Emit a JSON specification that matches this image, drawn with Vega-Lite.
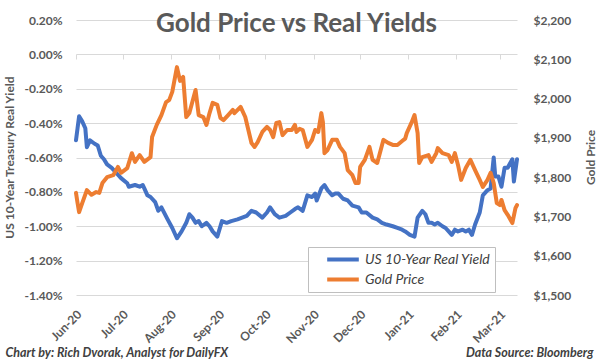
{
  "$schema": "https://vega.github.io/schema/vega-lite/v6.json",
  "width": 441,
  "height": 275,
  "autosize": {"type": "none"},
  "padding": {"left": 76, "top": 20, "right": 83, "bottom": 65},
  "background": "white",
  "config": {"font": "Lato", "view": {"stroke": null}},
  "title": {"text": "Gold Price vs Real Yields", "fontSize": 26, "fontWeight": "bold", "color": "#595959", "anchor": "middle", "frame": "group", "baseline": "alphabetic", "offset": -44},
  "datasets": {
    "yield": [
      {"date": "2020-06-01", "yield": -0.50},
      {"date": "2020-06-02", "yield": -0.43},
      {"date": "2020-06-03", "yield": -0.36},
      {"date": "2020-06-05", "yield": -0.39},
      {"date": "2020-06-07", "yield": -0.43},
      {"date": "2020-06-08", "yield": -0.54},
      {"date": "2020-06-10", "yield": -0.50},
      {"date": "2020-06-13", "yield": -0.52},
      {"date": "2020-06-15", "yield": -0.53},
      {"date": "2020-06-17", "yield": -0.59},
      {"date": "2020-06-19", "yield": -0.61},
      {"date": "2020-06-21", "yield": -0.64},
      {"date": "2020-06-24", "yield": -0.66},
      {"date": "2020-06-27", "yield": -0.69},
      {"date": "2020-06-30", "yield": -0.72},
      {"date": "2020-07-04", "yield": -0.75},
      {"date": "2020-07-05", "yield": -0.77},
      {"date": "2020-07-09", "yield": -0.76},
      {"date": "2020-07-12", "yield": -0.77},
      {"date": "2020-07-14", "yield": -0.76},
      {"date": "2020-07-15", "yield": -0.78},
      {"date": "2020-07-17", "yield": -0.82},
      {"date": "2020-07-19", "yield": -0.83},
      {"date": "2020-07-22", "yield": -0.86},
      {"date": "2020-07-24", "yield": -0.91},
      {"date": "2020-07-26", "yield": -0.89},
      {"date": "2020-07-30", "yield": -0.96},
      {"date": "2020-08-02", "yield": -1.01},
      {"date": "2020-08-05", "yield": -1.07},
      {"date": "2020-08-08", "yield": -1.03},
      {"date": "2020-08-11", "yield": -0.98},
      {"date": "2020-08-13", "yield": -0.93},
      {"date": "2020-08-15", "yield": -0.95},
      {"date": "2020-08-17", "yield": -0.98},
      {"date": "2020-08-19", "yield": -0.97},
      {"date": "2020-08-21", "yield": -1.00},
      {"date": "2020-08-24", "yield": -0.98},
      {"date": "2020-08-26", "yield": -1.00},
      {"date": "2020-08-28", "yield": -1.03},
      {"date": "2020-08-31", "yield": -1.06},
      {"date": "2020-09-03", "yield": -0.97},
      {"date": "2020-09-06", "yield": -0.98},
      {"date": "2020-09-09", "yield": -0.97},
      {"date": "2020-09-13", "yield": -0.96},
      {"date": "2020-09-16", "yield": -0.95},
      {"date": "2020-09-19", "yield": -0.94},
      {"date": "2020-09-22", "yield": -0.91},
      {"date": "2020-09-25", "yield": -0.92},
      {"date": "2020-09-29", "yield": -0.95},
      {"date": "2020-10-02", "yield": -0.92},
      {"date": "2020-10-04", "yield": -0.89},
      {"date": "2020-10-07", "yield": -0.93},
      {"date": "2020-10-10", "yield": -0.95},
      {"date": "2020-10-14", "yield": -0.94},
      {"date": "2020-10-17", "yield": -0.92},
      {"date": "2020-10-20", "yield": -0.90},
      {"date": "2020-10-22", "yield": -0.89},
      {"date": "2020-10-25", "yield": -0.91},
      {"date": "2020-10-28", "yield": -0.82},
      {"date": "2020-10-31", "yield": -0.83},
      {"date": "2020-11-02", "yield": -0.81},
      {"date": "2020-11-03", "yield": -0.85},
      {"date": "2020-11-06", "yield": -0.78},
      {"date": "2020-11-08", "yield": -0.76},
      {"date": "2020-11-10", "yield": -0.79},
      {"date": "2020-11-13", "yield": -0.82},
      {"date": "2020-11-15", "yield": -0.81},
      {"date": "2020-11-17", "yield": -0.81},
      {"date": "2020-11-20", "yield": -0.84},
      {"date": "2020-11-23", "yield": -0.85},
      {"date": "2020-11-26", "yield": -0.88},
      {"date": "2020-11-30", "yield": -0.89},
      {"date": "2020-12-02", "yield": -0.92},
      {"date": "2020-12-05", "yield": -0.92},
      {"date": "2020-12-09", "yield": -0.95},
      {"date": "2020-12-12", "yield": -0.96},
      {"date": "2020-12-15", "yield": -0.98},
      {"date": "2020-12-18", "yield": -0.99},
      {"date": "2020-12-22", "yield": -1.00},
      {"date": "2020-12-25", "yield": -1.01},
      {"date": "2020-12-28", "yield": -1.02},
      {"date": "2020-12-30", "yield": -1.03},
      {"date": "2021-01-02", "yield": -1.05},
      {"date": "2021-01-05", "yield": -1.06},
      {"date": "2021-01-07", "yield": -0.95},
      {"date": "2021-01-10", "yield": -0.91},
      {"date": "2021-01-12", "yield": -0.93},
      {"date": "2021-01-14", "yield": -0.98},
      {"date": "2021-01-16", "yield": -0.98},
      {"date": "2021-01-18", "yield": -0.99},
      {"date": "2021-01-20", "yield": -0.98},
      {"date": "2021-01-23", "yield": -1.00},
      {"date": "2021-01-25", "yield": -1.01},
      {"date": "2021-01-27", "yield": -1.03},
      {"date": "2021-01-29", "yield": -1.05},
      {"date": "2021-01-31", "yield": -1.02},
      {"date": "2021-02-02", "yield": -1.03},
      {"date": "2021-02-05", "yield": -1.02},
      {"date": "2021-02-07", "yield": -1.03},
      {"date": "2021-02-09", "yield": -1.02},
      {"date": "2021-02-11", "yield": -1.05},
      {"date": "2021-02-13", "yield": -0.99},
      {"date": "2021-02-16", "yield": -0.92},
      {"date": "2021-02-18", "yield": -0.82},
      {"date": "2021-02-21", "yield": -0.79},
      {"date": "2021-02-23", "yield": -0.78},
      {"date": "2021-02-25", "yield": -0.60},
      {"date": "2021-02-26", "yield": -0.71},
      {"date": "2021-02-28", "yield": -0.71},
      {"date": "2021-03-02", "yield": -0.77},
      {"date": "2021-03-04", "yield": -0.66},
      {"date": "2021-03-06", "yield": -0.66},
      {"date": "2021-03-09", "yield": -0.61},
      {"date": "2021-03-10", "yield": -0.74},
      {"date": "2021-03-12", "yield": -0.61}
    ],
    "gold": [
      {"date": "2020-06-01", "price": 1760},
      {"date": "2020-06-02", "price": 1734},
      {"date": "2020-06-03", "price": 1711},
      {"date": "2020-06-05", "price": 1734},
      {"date": "2020-06-08", "price": 1767},
      {"date": "2020-06-11", "price": 1755},
      {"date": "2020-06-14", "price": 1762},
      {"date": "2020-06-16", "price": 1760},
      {"date": "2020-06-18", "price": 1785},
      {"date": "2020-06-21", "price": 1800},
      {"date": "2020-06-25", "price": 1805},
      {"date": "2020-06-28", "price": 1826},
      {"date": "2020-06-30", "price": 1811},
      {"date": "2020-07-04", "price": 1823},
      {"date": "2020-07-07", "price": 1861},
      {"date": "2020-07-09", "price": 1839},
      {"date": "2020-07-12", "price": 1856},
      {"date": "2020-07-15", "price": 1839},
      {"date": "2020-07-19", "price": 1851},
      {"date": "2020-07-20", "price": 1902},
      {"date": "2020-07-23", "price": 1933},
      {"date": "2020-07-26", "price": 1958},
      {"date": "2020-07-29", "price": 1991},
      {"date": "2020-07-31", "price": 1996},
      {"date": "2020-08-02", "price": 2017},
      {"date": "2020-08-05", "price": 2080},
      {"date": "2020-08-07", "price": 2045},
      {"date": "2020-08-09", "price": 2055},
      {"date": "2020-08-11", "price": 1953},
      {"date": "2020-08-13", "price": 1963},
      {"date": "2020-08-17", "price": 2022},
      {"date": "2020-08-19", "price": 1958},
      {"date": "2020-08-22", "price": 1953},
      {"date": "2020-08-24", "price": 1933},
      {"date": "2020-08-26", "price": 1963},
      {"date": "2020-08-28", "price": 1989},
      {"date": "2020-08-31", "price": 1984},
      {"date": "2020-09-02", "price": 1951},
      {"date": "2020-09-04", "price": 1945},
      {"date": "2020-09-07", "price": 1958},
      {"date": "2020-09-10", "price": 1971},
      {"date": "2020-09-11", "price": 1963},
      {"date": "2020-09-15", "price": 1979},
      {"date": "2020-09-18", "price": 1953},
      {"date": "2020-09-20", "price": 1920},
      {"date": "2020-09-22", "price": 1887},
      {"date": "2020-09-24", "price": 1877},
      {"date": "2020-09-26", "price": 1889},
      {"date": "2020-09-29", "price": 1915},
      {"date": "2020-10-02", "price": 1928},
      {"date": "2020-10-04", "price": 1920},
      {"date": "2020-10-06", "price": 1902},
      {"date": "2020-10-08", "price": 1938},
      {"date": "2020-10-10", "price": 1940},
      {"date": "2020-10-12", "price": 1907},
      {"date": "2020-10-15", "price": 1920},
      {"date": "2020-10-18", "price": 1920},
      {"date": "2020-10-20", "price": 1933},
      {"date": "2020-10-21", "price": 1915},
      {"date": "2020-10-23", "price": 1923},
      {"date": "2020-10-25", "price": 1920},
      {"date": "2020-10-28", "price": 1877},
      {"date": "2020-10-31", "price": 1895},
      {"date": "2020-11-02", "price": 1920},
      {"date": "2020-11-04", "price": 1915},
      {"date": "2020-11-06", "price": 1963},
      {"date": "2020-11-07", "price": 1940},
      {"date": "2020-11-08", "price": 1861},
      {"date": "2020-11-10", "price": 1869},
      {"date": "2020-11-13", "price": 1895},
      {"date": "2020-11-16", "price": 1895},
      {"date": "2020-11-18", "price": 1877},
      {"date": "2020-11-21", "price": 1861},
      {"date": "2020-11-23", "price": 1818},
      {"date": "2020-11-26", "price": 1805},
      {"date": "2020-11-28", "price": 1785},
      {"date": "2020-11-30", "price": 1785},
      {"date": "2020-12-01", "price": 1826},
      {"date": "2020-12-04", "price": 1844},
      {"date": "2020-12-07", "price": 1877},
      {"date": "2020-12-09", "price": 1844},
      {"date": "2020-12-12", "price": 1836},
      {"date": "2020-12-16", "price": 1895},
      {"date": "2020-12-19", "price": 1887},
      {"date": "2020-12-22", "price": 1882},
      {"date": "2020-12-25", "price": 1882},
      {"date": "2020-12-29", "price": 1895},
      {"date": "2020-12-30", "price": 1898},
      {"date": "2020-12-31", "price": 1912},
      {"date": "2021-01-03", "price": 1938},
      {"date": "2021-01-05", "price": 1958},
      {"date": "2021-01-07", "price": 1912},
      {"date": "2021-01-08", "price": 1836},
      {"date": "2021-01-10", "price": 1851},
      {"date": "2021-01-14", "price": 1856},
      {"date": "2021-01-16", "price": 1839},
      {"date": "2021-01-19", "price": 1861},
      {"date": "2021-01-20", "price": 1874},
      {"date": "2021-01-23", "price": 1861},
      {"date": "2021-01-27", "price": 1856},
      {"date": "2021-01-29", "price": 1839},
      {"date": "2021-01-31", "price": 1861},
      {"date": "2021-02-02", "price": 1831},
      {"date": "2021-02-04", "price": 1793},
      {"date": "2021-02-07", "price": 1823},
      {"date": "2021-02-10", "price": 1844},
      {"date": "2021-02-13", "price": 1818},
      {"date": "2021-02-16", "price": 1793},
      {"date": "2021-02-18", "price": 1775},
      {"date": "2021-02-21", "price": 1793},
      {"date": "2021-02-23", "price": 1811},
      {"date": "2021-02-25", "price": 1785},
      {"date": "2021-02-27", "price": 1734},
      {"date": "2021-03-01", "price": 1729},
      {"date": "2021-03-02", "price": 1742},
      {"date": "2021-03-04", "price": 1716},
      {"date": "2021-03-06", "price": 1704},
      {"date": "2021-03-09", "price": 1683},
      {"date": "2021-03-11", "price": 1721},
      {"date": "2021-03-12", "price": 1729}
    ]
  },
  "layer": [
    {
      "data": {"name": "yield"},
      "mark": {"type": "line", "strokeWidth": 4, "strokeJoin": "round", "strokeCap": "round"},
      "encoding": {
        "x": {
          "field": "date", "type": "temporal",
          "scale": {"domain": ["2020-06-01", "2021-03-12"]},
          "axis": {
            "orient": "bottom", "format": "%b-%y", "tickCount": {"interval": "month", "step": 1},
            "labelAngle": -45, "labelAlign": "right", "labelBaseline": "middle", "labelPadding": 17, "labelOffset": 3,
            "labelFontSize": 12, "labelFontWeight": "bold", "labelColor": "#595959", "labelFlush": false, "labelOverlap": false,
            "domain": false, "ticks": false, "grid": false,
            "title": "Chart by: Rich Dvorak, Analyst for DailyFX", "titleX": -71, "titleY": 57,
            "titleAlign": "left", "titleBaseline": "middle", "titleAnchor": "start",
            "titleFontSize": 12.5, "titleFontWeight": "bold", "titleFontStyle": "italic", "titleColor": "#404040"
          }
        },
        "y": {
          "field": "yield", "type": "quantitative",
          "scale": {"domain": [-1.4, 0.2], "nice": false, "zero": false},
          "axis": {
            "orient": "left", "values": [-1.4, -1.2, -1.0, -0.8, -0.6, -0.4, -0.2, 0, 0.2],
            "labelExpr": "(datum.value < -0.0001 ? '-' : '') + format(abs(datum.value), '.2f') + '%'",
            "grid": true, "gridColor": "#d9d9d9", "gridWidth": 1, "domain": false, "ticks": false,
            "labelPadding": 14, "labelFontSize": 12, "labelFontWeight": "bold", "labelColor": "#595959",
            "title": "US 10-Year Treasury Real Yield", "titleFontSize": 12, "titleFontWeight": "bold", "titleColor": "#595959",
            "titleX": -67, "titleY": 137, "titleAngle": 270, "titleBaseline": "middle", "titleAlign": "center"
          }
        },
        "color": {
          "datum": "US 10-Year Real Yield", "type": "nominal",
          "scale": {"domain": ["US 10-Year Real Yield", "Gold Price"], "range": ["#4472C4", "#ED7D31"]},
          "legend": {
            "orient": "none", "legendX": 232, "legendY": 227, "direction": "vertical", "title": null,
            "fillColor": "white", "strokeColor": "#bfbfbf", "padding": 4,
            "symbolType": "stroke", "symbolSize": 1000, "symbolStrokeWidth": 4, "symbolOffset": 13,
            "clipHeight": 17, "rowPadding": 3, "labelOffset": 4,
            "labelFontSize": 14, "labelFontStyle": "italic", "labelColor": "#404040", "labelLimit": 300
          }
        }
      }
    },
    {
      "data": {"name": "gold"},
      "mark": {"type": "line", "strokeWidth": 4, "strokeJoin": "round", "strokeCap": "round"},
      "encoding": {
        "x": {
          "field": "date", "type": "temporal",
          "axis": {
            "orient": "top", "offset": -34, "labels": false, "ticks": true, "tickSize": -5, "tickColor": "#d9d9d9",
            "tickCount": {"interval": "month", "step": 1}, "domain": false, "grid": false,
            "title": "Data Source: Bloomberg", "titleX": 517, "titleY": 298, "titleAlign": "right", "titleBaseline": "middle",
            "titleFontSize": 12.5, "titleFontWeight": "bold", "titleFontStyle": "italic", "titleColor": "#404040"
          }
        },
        "y": {
          "field": "price", "type": "quantitative",
          "scale": {"domain": [1500, 2200], "nice": false, "zero": false},
          "axis": {
            "orient": "right", "values": [1500, 1600, 1700, 1800, 1900, 2000, 2100, 2200], "format": "$,.0f",
            "grid": false, "domain": false, "ticks": false,
            "labelPadding": 16, "labelFontSize": 12, "labelFontWeight": "bold", "labelColor": "#595959",
            "title": "Gold Price", "titleFontSize": 12, "titleFontWeight": "bold", "titleColor": "#595959",
            "titleX": 73, "titleY": 137, "titleAngle": 270, "titleBaseline": "middle", "titleAlign": "center"
          }
        },
        "color": {"datum": "Gold Price", "type": "nominal"}
      }
    }
  ],
  "resolve": {"scale": {"y": "independent"}, "axis": {"x": "independent"}}
}
